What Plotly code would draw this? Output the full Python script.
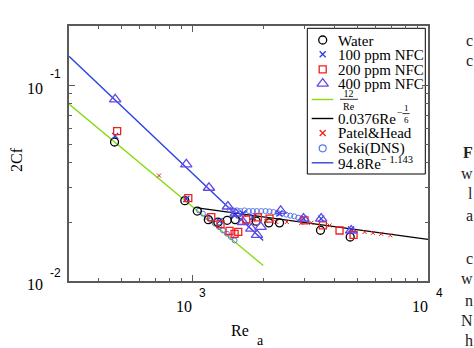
import plotly.graph_objects as go

# ---------------- data ----------------
water_re = [468, 930, 1050, 1170, 1285, 1407, 1521, 1867, 2113, 2345, 3499, 4677]
water_cf = [0.0512, 0.0257, 0.02275, 0.02056, 0.01994, 0.0204, 0.02057, 0.0202, 0.0198, 0.0198, 0.01815, 0.01677]

ppm100_re = [471, 943, 1306, 1512, 1640, 1807, 2344, 2964, 3523, 4723]
ppm100_cf = [0.0550, 0.0262, 0.0202, 0.0216, 0.0221, 0.0212, 0.0221, 0.0208, 0.0208, 0.0183]

ppm200_re = [480, 962, 1204, 1318, 1439, 1512, 1567, 1694, 1898, 2127, 2993, 3581, 4214, 4833]
ppm200_cf = [0.0581, 0.0265, 0.0212, 0.0195, 0.0180, 0.0174, 0.0178, 0.0206, 0.0211, 0.0208, 0.0204, 0.0192, 0.0181, 0.0172]

ppm400_re = [471, 943, 1177, 1416, 1527, 1640, 1780, 1881, 1950, 2371, 2964, 3523, 4723]
ppm400_cf = [0.0845, 0.0394, 0.0299, 0.0240, 0.0221, 0.0200, 0.0185, 0.0172, 0.0189, 0.0228, 0.0208, 0.0208, 0.0181]

patel_re = [723, 1807, 2061, 2271, 2519, 2899, 3197, 3821, 5385, 5838, 6331, 6918]
patel_cf = [0.0345, 0.0204, 0.0202, 0.0200, 0.0200, 0.0198, 0.0198, 0.0192, 0.0178, 0.0176, 0.0174, 0.0171]

seki_re = [1440, 1488, 1547, 1598, 1667, 1739, 1808, 1880, 1962, 2046, 2128, 2213, 2308, 2408, 2504, 2604, 2708, 2815, 2928,
           1067, 1110, 1154, 1200, 1248, 1298, 1349, 1403, 1459, 1512]
seki_cf = [0.02312, 0.02293, 0.02293, 0.02275, 0.02293, 0.02275, 0.02275, 0.02275, 0.02275, 0.02275, 0.02266, 0.02249, 0.02223,
           0.02206, 0.0218, 0.02154, 0.02138, 0.02104, 0.0207,
           0.02293, 0.02206, 0.0212, 0.0204, 0.0196, 0.01886, 0.01813, 0.01744, 0.01677, 0.01612]

# fitted / reference lines (end points)
lam_re = [300, 2000]
lam_cf = [0.0800, 0.0120]
turb_re = [1050, 10000]
turb_cf = [0.0236, 0.0163]
fit_re = [300, 2000]
fit_cf = [0.140, 0.0161]

x_minor = [400, 500, 600, 700, 800, 900, 2000, 3000, 4000, 5000, 6000, 7000, 8000, 9000]
y_minor = [0.02, 0.03, 0.04, 0.05, 0.06, 0.07, 0.08, 0.09, 0.2]

legend_labels = ["Water", "100 ppm NFC", "200 ppm NFC", "400 ppm NFC", "0.0376Re", "Patel&amp;Head", "Seki(DNS)",
                 "94.8Re<sup>\u2212 1.143</sup>"]

# ---------------- styles ----------------
SERIF = "Liberation Serif"
SANS = "Liberation Sans"
GREEN = "#84dc10"
BLUE_LINE = "#2a44e0"
BLUE_X = "#2a3ce6"
RED = "#f02020"
PURPLE = "#6648e4"
SEKI = "#5a78ec"
FRAME = "#5a5a5a"

fig = go.Figure()

fig.add_trace(go.Scatter(x=lam_re, y=lam_cf, mode="lines", line=dict(color=GREEN, width=1.4), showlegend=False))
fig.add_trace(go.Scatter(x=fit_re, y=fit_cf, mode="lines", line=dict(color=BLUE_LINE, width=1.4), showlegend=False))
fig.add_trace(go.Scatter(x=turb_re, y=turb_cf, mode="lines", line=dict(color="black", width=1.4), showlegend=False))

fig.add_trace(go.Scatter(x=seki_re, y=seki_cf, mode="markers",
                         marker=dict(symbol="circle-open", size=5, color=SEKI, line=dict(width=1)), showlegend=False))
fig.add_trace(go.Scatter(x=patel_re, y=patel_cf, mode="markers",
                         marker=dict(symbol="x-thin", size=4, color=RED, line=dict(width=1, color=RED)), showlegend=False))
fig.add_trace(go.Scatter(x=water_re, y=water_cf, mode="markers",
                         marker=dict(symbol="circle-open", size=8, color="black", line=dict(width=1.3)), showlegend=False))
fig.add_trace(go.Scatter(x=ppm100_re, y=ppm100_cf, mode="markers",
                         marker=dict(symbol="x-thin", size=6, color=BLUE_X, line=dict(width=1.3, color=BLUE_X)), showlegend=False))
fig.add_trace(go.Scatter(x=ppm200_re, y=ppm200_cf, mode="markers",
                         marker=dict(symbol="square-open", size=7, color=RED, line=dict(width=1.3)), showlegend=False))
fig.add_trace(go.Scatter(x=ppm400_re, y=ppm400_cf, mode="markers",
                         marker=dict(symbol="triangle-up-open", size=10, color=PURPLE, line=dict(width=1.3)), showlegend=False))

# ---------------- manual legend (overlay axes in pixel units of the plot area) ----------------
L_X0, L_X1, L_Y0, L_Y1 = 69, 428, 281, 26
key_x = 322.7
key_specs = [
    (40.0, "circle-open", 8, "black", 1.3),
    (54.3, "x-thin", 6, BLUE_X, 1.3),
    (69.3, "square-open", 7, RED, 1.3),
    (83.6, "triangle-up-open", 10, PURPLE, 1.3),
    (133.0, "x-thin", 6, RED, 1.3),
    (148.3, "circle-open", 7, SEKI, 1.2),
]
for ky, sym, sz, col, lw in key_specs:
    fig.add_trace(go.Scatter(x=[key_x], y=[ky], xaxis="x2", yaxis="y2", mode="markers",
                             marker=dict(symbol=sym, size=sz, color=col, line=dict(width=lw, color=col)),
                             showlegend=False, hoverinfo="skip"))
for ky, col in [(99.5, GREEN), (118.5, "black"), (162.8, BLUE_LINE)]:
    fig.add_trace(go.Scatter(x=[311.7, 333.3], y=[ky, ky], xaxis="x2", yaxis="y2", mode="lines",
                             line=dict(color=col, width=1.4), showlegend=False, hoverinfo="skip"))

shapes = [
    dict(type="rect", xref="x2", yref="y2", x0=307.3, x1=425.3, y0=28.3, y1=174,
         line=dict(color="black", width=1), fillcolor="white", layer="below"),
    dict(type="line", xref="x2", yref="y2", x0=340, x1=358, y0=99.3, y1=99.3, line=dict(color="black", width=0.8)),
    dict(type="line", xref="x2", yref="y2", x0=402.5, x1=409.5, y0=113.6, y1=113.6, line=dict(color="black", width=0.8)),
]

ann = []
def lab(x, y, text, size=15, font=SERIF, xanchor="left", **kw):
    ann.append(dict(xref="x2", yref="y2", x=x, y=y, text=text, showarrow=False, xanchor=xanchor, yanchor="middle",
                    font=dict(family=font, size=size, color="black"), borderpad=0, **kw))

TX = 336.5
for yy, t in zip([40.5, 54.8, 69.5, 83.5, 118.5, 133.3, 148.6, 163.0], legend_labels):
    lab(TX, yy, t)
lab(349.2, 99.5, "12<br>Re", size=10, xanchor="center")
lab(399.5, 112.0, "\u2212", size=10, xanchor="center")
lab(406.0, 113.6, "1<br>6", size=9, xanchor="center")

# ---------------- tick labels (10 with offset exponent) ----------------
def tickann(**kw):
    ann.append(dict(showarrow=False, **kw))

for ylog, dy10, dyexp, exp in [(-1, -3, 11, "-1"), (-2, -3.5, 8, "-2")]:
    tickann(xref="paper", yref="y", x=0, y=ylog, xshift=-34, yshift=dy10, text="10", xanchor="center", yanchor="middle",
            font=dict(family=SERIF, size=16, color="black"))
    tickann(xref="paper", yref="y", x=0, y=ylog, xshift=-14, yshift=dyexp, text=exp, xanchor="center", yanchor="middle",
            font=dict(family=SANS, size=12, color="black"))
for xlog, d10, dexp, exp in [(3, -8.7, 10, "3"), (4, -8.5, 11.5, "4")]:
    tickann(xref="x", yref="paper", x=xlog, y=0, xshift=d10, yshift=-25, text="10", xanchor="center", yanchor="middle",
            font=dict(family=SERIF, size=16, color="black"))
    tickann(xref="x", yref="paper", x=xlog, y=0, xshift=dexp, yshift=-12, text=exp, xanchor="center", yanchor="middle",
            font=dict(family=SANS, size=12, color="black"))

# axis titles
tickann(xref="paper", yref="paper", x=0, y=0.475, xshift=-52, text="2Cf", textangle=-90, xanchor="center", yanchor="middle",
        font=dict(family=SERIF, size=16, color="black"))
tickann(xref="paper", yref="paper", x=0.4763, y=0, yshift=-49, text="Re", xanchor="center", yanchor="middle",
        font=dict(family=SERIF, size=16, color="black"))
tickann(xref="paper", yref="paper", x=0.5340, y=0, yshift=-59, text="a", xanchor="center", yanchor="middle",
        font=dict(family=SERIF, size=14, color="black"))

# fragments of the surrounding page text at the right edge
for yy, t, bold in [(40, "c", False), (61, "c", False), (152, "F", True), (173, "w", False), (193, "l", False),
                    (215, "a", False), (258, "c", False), (278, "w", False), (300, "n", False), (321, "N", False),
                    (340, "h", False)]:
    ann.append(dict(xref="paper", yref="paper", x=(473.5 - 69) / 359, y=(281 - yy) / 255,
                    text=("<b>%s</b>" % t) if bold else t, showarrow=False, borderpad=0,
                    xanchor="right", yanchor="middle", font=dict(family=SERIF, size=16, color="#222")))

axis_common = dict(showgrid=False, zeroline=False, showline=True, linecolor=FRAME, linewidth=1.5, mirror="ticks",
                   ticks="inside", ticklen=6, tickcolor=FRAME, tickwidth=1, showticklabels=False)

fig.update_layout(
    width=474, height=348,
    margin=dict(l=69, r=46, t=26, b=67),
    paper_bgcolor="white", plot_bgcolor="white",
    showlegend=False,
    xaxis=dict(type="log", range=[2.4771, 4.0], tickvals=[1000, 10000],
               minor=dict(tickvals=x_minor, ticks="inside", ticklen=3, tickcolor=FRAME), **axis_common),
    yaxis=dict(type="log", range=[-2.0, -0.699], tickvals=[0.01, 0.1],
               minor=dict(tickvals=y_minor, ticks="inside", ticklen=3, tickcolor=FRAME), **axis_common),
    xaxis2=dict(overlaying="x", anchor="y2", range=[L_X0, L_X1], visible=False, fixedrange=True),
    yaxis2=dict(overlaying="y", anchor="x2", range=[L_Y0, L_Y1], visible=False, fixedrange=True),
    shapes=shapes,
    annotations=ann,
)

fig.write_html("out.html")
